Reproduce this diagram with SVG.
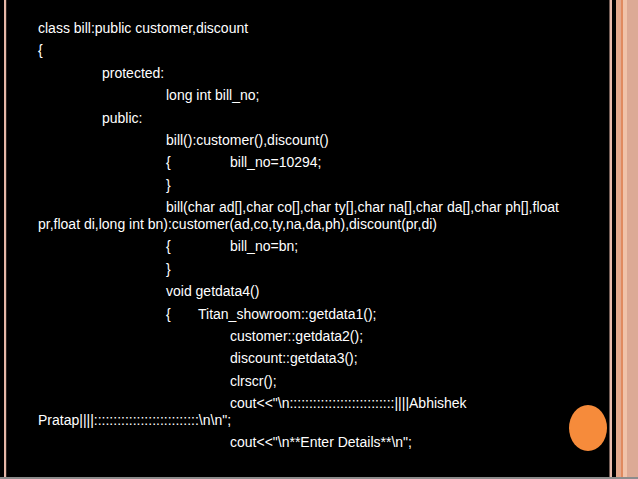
<svg xmlns="http://www.w3.org/2000/svg" width="638" height="479" viewBox="0 0 638 479">
<style>
.t{font-family:"Liberation Sans",Arial,sans-serif;font-size:14px;fill:#ffffff;}
</style>
<g id="frame">
<rect x="0" y="0" width="638" height="479" fill="#000000"/>
<rect x="4" y="0" width="2.2" height="479" fill="#e6b7a7"/>
<rect x="609.5" y="0" width="2.5" height="479" fill="#e8bcad"/>
<rect x="616" y="0" width="22" height="479" fill="#dcaa95"/>
<rect x="616" y="0" width="5" height="479" fill="#e3a98e"/>
<rect x="621" y="0" width="2" height="479" fill="#e08a5f"/>
<rect x="623" y="0" width="4" height="479" fill="#f0c3aa"/>
<rect x="0" y="477" width="638" height="2" fill="#8c8c8c"/>
</g>
<g id="circle">
<ellipse cx="588" cy="428" rx="19" ry="23" fill="#f68b3b"/>
</g>
<g id="code">
<text class="t" x="38" y="33">class bill:public customer,discount</text>
<text class="t" x="38" y="55.4">{</text>
<text class="t" x="102" y="77.8">protected:</text>
<text class="t" x="166" y="100.2">long int bill_no;</text>
<text class="t" x="102" y="122.6">public:</text>
<text class="t" x="166" y="145">bill():customer(),discount()</text>
<text class="t" x="166" y="167.4">{</text>
<text class="t" x="230" y="167.4">bill_no=10294;</text>
<text class="t" x="166" y="189.8">}</text>
<text class="t" x="166" y="212.2">bill(char ad[],char co[],char ty[],char na[],char da[],char ph[],float</text>
<text class="t" x="38" y="229">pr,float di,long int bn):customer(ad,co,ty,na,da,ph),discount(pr,di)</text>
<text class="t" x="166" y="251.4">{</text>
<text class="t" x="230" y="251.4">bill_no=bn;</text>
<text class="t" x="166" y="273.8">}</text>
<text class="t" x="166" y="296.2">void getdata4()</text>
<text class="t" x="166" y="318.6">{</text>
<text class="t" x="198" y="318.6">Titan_showroom::getdata1();</text>
<text class="t" x="230" y="341">customer::getdata2();</text>
<text class="t" x="230" y="363.4">discount::getdata3();</text>
<text class="t" x="230" y="385.8">clrscr();</text>
<text class="t" x="230" y="408.2">cout&lt;&lt;&quot;\n:::::::::::::::::::::::::::||||Abhishek</text>
<text class="t" x="38" y="425">Pratap||||:::::::::::::::::::::::::::\n\n&quot;;</text>
<text class="t" x="230" y="447.4">cout&lt;&lt;&quot;\n**Enter Details**\n&quot;;</text>
</g>
</svg>
